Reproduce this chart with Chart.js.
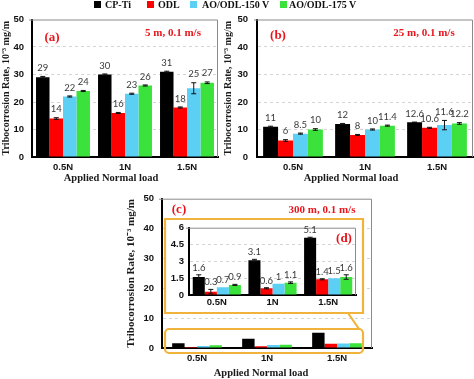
<!DOCTYPE html>
<html><head><meta charset="utf-8">
<script src="https://cdn.jsdelivr.net/npm/chart.js@4/dist/chart.umd.min.js"></script>
<style>
html,body{margin:0;padding:0;background:#fff;}
body{width:474px;height:379px;position:relative;overflow:hidden;}
canvas{position:absolute;}
.t{position:absolute;font-family:"Liberation Serif","Times New Roman",serif;font-weight:bold;white-space:nowrap;line-height:1;transform:translate(-50%,-50%);}
.red{color:#e8161c;}
.sq{position:absolute;width:7px;height:7px;}
.lg{position:absolute;font-family:"Liberation Serif","Times New Roman",serif;font-weight:bold;font-size:10px;line-height:1;white-space:nowrap;color:#111;}
</style></head><body>

<canvas id="ca" width="237" height="185" style="left:0;top:0"></canvas>
<canvas id="cb" width="252" height="185" style="left:222px;top:0"></canvas>
<canvas id="cc" width="260" height="194" style="left:125px;top:185px"></canvas>
<canvas id="cd" width="202" height="98" style="left:163px;top:217px"></canvas>

<div class="sq" style="left:94px;top:1px;background:#000"></div><div class="lg" style="left:105px;top:0px">CP-Ti</div>
<div class="sq" style="left:147px;top:1px;background:#ff0000"></div><div class="lg" style="left:158px;top:0px">ODL</div>
<div class="sq" style="left:190px;top:1px;background:#5ccff5"></div><div class="lg" style="left:202px;top:0px">AO/ODL-150 V</div>
<div class="sq" style="left:280px;top:1px;background:#3be23b"></div><div class="lg" style="left:289px;top:0px">AO/ODL-175 V</div>

<div class="t red" style="left:52px;top:36px;font-size:13px">(a)</div>
<div class="t red" style="left:173px;top:32px;font-size:11px">5 m, 0.1 m/s</div>
<div class="t red" style="left:278px;top:34px;font-size:13px">(b)</div>
<div class="t red" style="left:424px;top:32px;font-size:11px">25 m, 0.1 m/s</div>
<div class="t red" style="left:179px;top:208px;font-size:13px">(c)</div>
<div class="t red" style="left:322px;top:209px;font-size:11px">300 m, 0.1 m/s</div>
<div class="t red" style="left:344px;top:237px;font-size:13px">(d)</div>

<div class="t" style="left:111px;top:178px;font-size:10.5px;color:#1a1a1a">Applied Normal load</div>
<div class="t" style="left:351px;top:178px;font-size:10.5px;color:#1a1a1a">Applied Normal load</div>
<div class="t" style="left:261px;top:373px;font-size:10.5px;color:#1a1a1a">Applied Normal load</div>

<script>
// ---------- DATA ----------
const categories = ['0.5N', '1N', '1.5N'];
const seriesNames = ['CP-Ti', 'ODL', 'AO/ODL-150 V', 'AO/ODL-175 V'];

// (a) 5 m, 0.1 m/s
const a_cpti  = [29, 30, 31];
const a_odl   = [14, 16, 18];
const a_ao150 = [22, 23, 25];
const a_ao175 = [24, 26, 27];
const a_err_cpti  = [0.3, 0.2, 0.2];
const a_err_odl   = [0.3, 0.2, 0.2];
const a_err_ao150 = [0.2, 0.2, 2.0];
const a_err_ao175 = [0.2, 0.2, 0.3];

// (b) 25 m, 0.1 m/s
const b_cpti  = [11, 12, 12.6];
const b_odl   = [6, 8, 10.6];
const b_ao150 = [8.5, 10, 11.6];
const b_ao175 = [10, 11.4, 12.2];
const b_err_cpti  = [0.2, 0.2, 0.1];
const b_err_odl   = [0.3, 0.2, 0.2];
const b_err_ao150 = [0.2, 0.2, 1.7];
const b_err_ao175 = [0.3, 0.2, 0.3];

// (c)/(d) 300 m, 0.1 m/s
const c_cpti  = [1.6, 3.1, 5.1];
const c_odl   = [0.3, 0.6, 1.4];
const c_ao150 = [0.7, 1, 1.5];
const c_ao175 = [0.9, 1.1, 1.6];
const c_err_cpti  = [0.2, 0.08, 0.05];
const c_err_odl   = [0.2, 0.05, 0.05];
const c_err_ao150 = [0, 0, 0];
const c_err_ao175 = [0.05, 0.07, 0.2];

// tick values
const ticksMain = [0, 10, 20, 30, 40, 50];
const ticksInset = [0, 1.5, 3, 4.5, 6];

const seriesColors = ['#000000', '#ff0000', '#5ccff5', '#3be23b'];

// ---------- HELPERS ----------
const tickFont = {family: '"Liberation Sans", Arial, sans-serif', weight: 'bold', size: 9.5};
const titleFont = {family: '"Liberation Serif", "Times New Roman", serif', weight: 'bold', size: 10};

const extras = {
  id: 'extras',
  beforeDraw(chart, args, o) {
    if (o.box) {
      const c = chart.ctx; const b = o.box;
      c.save(); c.fillStyle = '#fff'; c.fillRect(b[0], b[1], b[2] - b[0], b[3] - b[1]); c.restore();
    }
  },
  beforeDatasetsDraw(chart) {
    const c = chart.ctx, a = chart.chartArea;
    c.save();
    c.strokeStyle = '#8a8a8a'; c.lineWidth = 1;
    c.beginPath();
    c.moveTo(a.left - 3, a.top + 0.5); c.lineTo(a.right - 0.5, a.top + 0.5); c.lineTo(a.right - 0.5, a.bottom);
    c.stroke();
    c.restore();
  },
  afterDatasetsDraw(chart, args, o) {
    const c = chart.ctx, ys = chart.scales.y;
    c.save();
    chart.data.datasets.forEach((ds, i) => {
      const meta = chart.getDatasetMeta(i);
      const errs = o.errors ? o.errors[i] : null;
      meta.data.forEach((el, j) => {
        const v = ds.data[j];
        const e = errs ? errs[j] : 0;
        let top = el.y;
        if (e > 0) {
          const yt = ys.getPixelForValue(v + e), yb = ys.getPixelForValue(v - e);
          c.strokeStyle = '#111'; c.lineWidth = 1;
          c.beginPath();
          c.moveTo(el.x, yt); c.lineTo(el.x, yb);
          c.moveTo(el.x - 2.5, yt); c.lineTo(el.x + 2.5, yt);
          c.moveTo(el.x - 2.5, yb); c.lineTo(el.x + 2.5, yb);
          c.stroke();
          top = Math.min(top, yt);
        }
        if (o.labels) {
          c.fillStyle = '#3a3a3a';
          c.font = '9.5px Lato, "Open Sans", sans-serif';
          c.textAlign = 'center'; c.textBaseline = 'middle';
          c.fillText(String(v), el.x, top - o.labelOffset);
        }
      });
    });
    c.restore();
  },
  afterDraw(chart, args, o) {
    const c = chart.ctx;
    c.save();
    c.strokeStyle = '#f0b43c'; c.lineWidth = 2.2;
    if (o.box) {
      const b = o.box;
      c.beginPath(); c.rect(b[0], b[1], b[2] - b[0], b[3] - b[1]); c.stroke();
    }
    if (o.lowBox) {
      const b = o.lowBox;
      c.beginPath(); c.roundRect(b[0], b[1], b[2] - b[0], b[3] - b[1], 4); c.stroke();
      const l = o.link;
      c.beginPath(); c.moveTo(l[0], l[1]); c.lineTo(l[2], l[3]); c.stroke();
    }
    c.restore();
  }
};

function makeDatasets(vals) {
  return vals.map((d, i) => ({label: seriesNames[i], data: d, backgroundColor: seriesColors[i], borderWidth: 0}));
}

function makeChart(id, vals, errs, cfg) {
  const max = cfg.ticks[cfg.ticks.length - 1];
  return new Chart(document.getElementById(id), {
    type: 'bar',
    data: {labels: categories, datasets: makeDatasets(vals).map(d => Object.assign(d, {categoryPercentage: cfg.cat, barPercentage: 1}))},
    plugins: [extras],
    options: {
      responsive: false, animation: false, devicePixelRatio: 1,
      layout: {padding: cfg.pad},
      plugins: {
        legend: {display: false}, tooltip: {enabled: false},
        extras: {errors: errs, labels: cfg.labels, labelOffset: cfg.labelOffset, box: cfg.box, lowBox: cfg.lowBox, link: cfg.link}
      },
      scales: {
        x: {
          grid: {display: false, drawTicks: false, tickLength: 0},
          border: {display: true, color: '#000', width: 2},
          ticks: {font: tickFont, color: '#111', padding: cfg.xPad, maxRotation: 0, autoSkip: false},
          afterFit: s => { s.height = cfg.xH; }
        },
        y: {
          min: 0, max: max,
          afterBuildTicks: s => { s.ticks = cfg.ticks.map(v => ({value: v})); },
          grid: {
            drawTicks: false, tickLength: 0, lineWidth: 1,
            color: ctx => (ctx.tick && (ctx.tick.value === 0 || ctx.tick.value === max)) ? 'rgba(0,0,0,0)' : '#d4d4d4'
          },
          border: {display: true, color: '#000', width: 2, dash: [3, 3]},
          ticks: {font: tickFont, color: '#111', padding: cfg.yPad, callback: v => String(v)},
          title: cfg.title ? {display: true, text: 'Tribocorrosion Rate, 10⁻³ mg/m', font: cfg.titleFont || titleFont, color: '#1a1a1a', padding: 0} : {display: false},
          afterFit: s => { s.width = cfg.yW; }
        }
      }
    }
  });
}

makeChart('ca', [a_cpti, a_odl, a_ao150, a_ao175], [a_err_cpti, a_err_odl, a_err_ao150, a_err_ao175],
  {ticks: ticksMain, cat: 0.87, pad: {top: 19.5, right: 19, left: 0, bottom: 0}, xH: 28, yW: 32, xPad: 5, yPad: 8, labels: true, labelOffset: 8.5, title: true});

makeChart('cb', [b_cpti, b_odl, b_ao150, b_ao175], [b_err_cpti, b_err_odl, b_err_ao150, b_err_ao175],
  {ticks: ticksMain, cat: 0.83, pad: {top: 19.5, right: 1, left: 0, bottom: 0}, xH: 28, yW: 35, xPad: 5, yPad: 9, labels: true, labelOffset: 8.5, title: true});

makeChart('cc', [c_cpti, c_odl, c_ao150, c_ao175], null,
  {ticks: ticksMain, cat: 0.71, pad: {top: 13, right: 13, left: 0, bottom: 0}, xH: 31, yW: 37, xPad: 5, yPad: 8, labels: false, title: true,
   titleFont: {family: '"Liberation Serif", "Times New Roman", serif', weight: 'bold', size: 11},
   lowBox: [40, 144, 238, 168], link: [223, 128, 234, 144]});

makeChart('cd', [c_cpti, c_odl, c_ao150, c_ao175], [c_err_cpti, c_err_odl, c_err_ao150, c_err_ao175],
  {ticks: ticksInset, cat: 0.865, pad: {top: 8, right: 9, left: 0, bottom: 0}, xH: 20, yW: 26, xPad: 2, yPad: 5, labels: true, labelOffset: 7, title: false,
   box: [2, 2, 200, 96]});
</script>
</body></html>
